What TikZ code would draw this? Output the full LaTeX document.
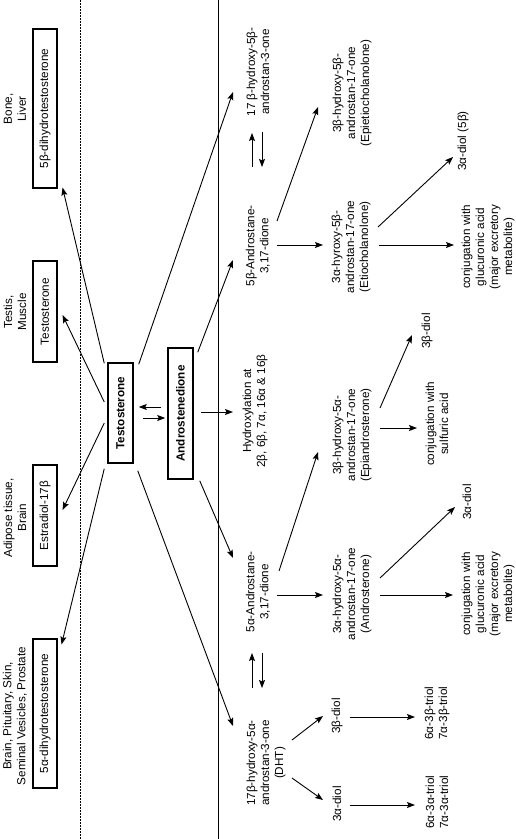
\documentclass[tikz,border=0pt]{standalone}
\usepackage{fontspec}
\setmainfont{Liberation Sans}
\usetikzlibrary{arrows.meta,calc}
\begin{document}
\begin{tikzpicture}[x=1pt,y=-1pt,
    >={Stealth[length=8pt,width=6pt,inset=1.5pt]},
    every node/.style={font=\fontsize{11.7}{14}\selectfont},
    txt/.style={rotate=90,align=center,inner sep=0pt},
    tissuebox/.style={txt,draw,line width=1.1pt,minimum height=24pt},
    hormonebox/.style={txt,draw,line width=1.5pt,minimum height=25pt,
        font=\fontsize{11.7}{14}\selectfont\bfseries},
    flow/.style={->,line width=0.9pt}]
    \useasboundingbox (0,0) rectangle (516,839);

    % Separating lines
    \draw[dash pattern=on 2pt off 1pt,line width=0.8pt] (80,0) -- (80,839);
    \draw[line width=1pt] (218,0) -- (218,839);

    % Tissues and their products
    \node[txt] (LBone) at (15,109) {Bone,\\Liver};
    \node[txt] (LTestis) at (15,312) {Testis,\\Muscle};
    \node[txt] (LAdipose) at (15,518) {Adipose tissue,\\Brain};
    \node[txt] (LBrain) at (15,716) {Brain, Pituitary, Skin,\\Seminal Vesicles, Prostate};
    \node[tissuebox,minimum width=159pt] (B5b) at (45,108.5) {5β-dihydrotestosterone};
    \node[tissuebox,minimum width=101pt] (BT) at (45,311.5) {Testosterone};
    \node[tissuebox,minimum width=101pt] (BE) at (45,515.5) {Estradiol-17β};
    \node[tissuebox,minimum width=149pt] (B5a) at (45,713.5) {5α-dihydrotestosterone};

    % Main hormones
    \node[hormonebox,minimum width=100pt] (T) at (120.5,413) {Testosterone};
    \node[hormonebox,minimum width=131pt] (A) at (180.5,413.5) {Androstenedione};

    % First metabolites
    \node[txt] (H17) at (258,72) {17 β-hydroxy-5β-\\androstan-3-one};
    \node[txt] (D5b) at (258,246) {5β-Androstane-\\3,17-dione};
    \node[txt] (Hy) at (255,411) {Hydroxylation at\\2β, 6β, 7α, 16α \& 16β};
    \node[txt] (D5a) at (258,592) {5α-Androstane-\\3,17-dione};
    \node[txt] (DHT) at (266,763) {17β-hydroxy-5α-\\androstan-3-one\\(DHT)};

    % Second metabolites
    \node[txt] (E5b) at (352,93) {3β-hydroxy-5β-\\androstan-17-one\\(Epietiocholanolone)};
    \node[txt] (Et) at (351,247) {3α-hyroxy-5β-\\androstan-17-one\\(Etiocholanolone)};
    \node[txt] (Ep) at (352,435) {3β-hydroxy-5α-\\androstan-17-one\\(Epiandrosterone)};
    \node[txt] (An) at (352,594) {3α-hydroxy-5α-\\androstan-17-one\\(Androsterone)};
    \node[txt] (D3b) at (337,716) {3β-diol};
    \node[txt] (D3a) at (337,804) {3α-diol};

    % End products
    \node[txt] (Di5b) at (463,141) {3α-diol (5β)};
    \node[txt] (Conj1) at (488,247) {conjugation with\\glucuronic acid\\(major excretory\\metabolite)};
    \node[txt] (Db) at (427,331) {3β-diol};
    \node[txt] (ConjS) at (437,424) {conjugation with\\sulfuric acid};
    \node[txt] (Da) at (467,502) {3α-diol};
    \node[txt] (Conj2) at (488,594) {conjugation with\\glucuronic acid\\(major excretory\\metabolite)};
    \node[txt] (Tb) at (437,713) {6α-3β-triol\\7α-3β-triol};
    \node[txt] (Ta) at (437,802) {6α-3α-triol\\7α-3α-triol};

    % Testosterone to tissues
    \draw[flow] ($(T.north east)+(-3,1)$) -- ($(B5b.south west)+(5,-1)$);
    \draw[flow] ($(T.north)+(-3,-11)$) -- ($(BT.south)+(5,3.5)$);
    \draw[flow] ($(T.north)+(-3,10)$) -- ($(BE.south)+(5,-5.5)$);
    \draw[flow] ($(T.north west)+(-3,5)$) -- ($(B5a.south east)+(4,6)$);

    % Testosterone <-> Androstenedione
    \draw[flow] ($(A.north)+(-6,-6.5)$) -- ($(T.south)+(5,-6)$);
    \draw[flow] ($(T.south)+(9,5)$) -- ($(A.north)+(-2,4.5)$);

    % Reduction and hydroxylation
    \draw[flow] ($(T.south east)+(5,2)$) -- ($(H17)+(-25,20)$);
    \draw[flow] ($(T.south west)+(4,7)$) -- ($(DHT)+(-33,-37)$);
    \draw[flow] ($(A.south east)+(4,5)$) -- ($(D5b)+(-25,14)$);
    \draw[flow] ($(A.south)+(7,-1.5)$) -- ($(Hy)+(-22,1)$);
    \draw[flow] ($(A.south west)+(6,1)$) -- ($(D5a)+(-25,-34)$);

    % Equilibria
    \draw[flow] ($(D5b)+(-6,-79)$) -- ($(H17)+(-6,61)$);
    \draw[flow] ($(H17)+(4,60)$) -- ($(D5b)+(4,-79)$);
    \draw[flow] ($(DHT)+(-14,-75)$) -- ($(D5a)+(-6,61)$);
    \draw[flow] ($(D5a)+(4,61)$) -- ($(DHT)+(-4,-75)$);

    % 5beta branch
    \draw[flow] ($(D5b)+(19,-25)$) -- ($(E5b)+(-34,14)$);
    \draw[flow] ($(D5b)+(19,-1)$) -- ($(Et)+(-28,-2)$);
    \draw[flow] ($(Et)+(27,-20)$) -- ($(Di5b)+(-10,16)$);
    \draw[flow] ($(Et)+(28,-2)$) -- ($(Conj1)+(-34,-2)$);

    % 5alpha branch
    \draw[flow] ($(D5a)+(21,-21)$) -- ($(Ep)+(-34,17)$);
    \draw[flow] ($(D5a)+(19,3)$) -- ($(An)+(-29,1)$);
    \draw[flow] ($(Ep)+(28,-7)$) -- ($(ConjS)+(-20,4)$);
    \draw[flow] ($(Ep)+(28,-27)$) -- ($(Db)+(-15,4)$);
    \draw[flow] ($(An)+(28,-16)$) -- ($(Da)+(-12,5)$);
    \draw[flow] ($(An)+(28,1)$) -- ($(Conj2)+(-35,1)$);

    % DHT branch
    \draw[flow] ($(DHT)+(26,-23)$) -- ($(D3b)+(-14,0)$);
    \draw[flow] ($(DHT)+(26,15)$) -- ($(D3a)+(-14,-4)$);
    \draw[flow] ($(D3b)+(13,1)$) -- ($(Tb)+(-22,4)$);
    \draw[flow] ($(D3a)+(13,1)$) -- ($(Ta)+(-22,3)$);
\end{tikzpicture}
\end{document}
